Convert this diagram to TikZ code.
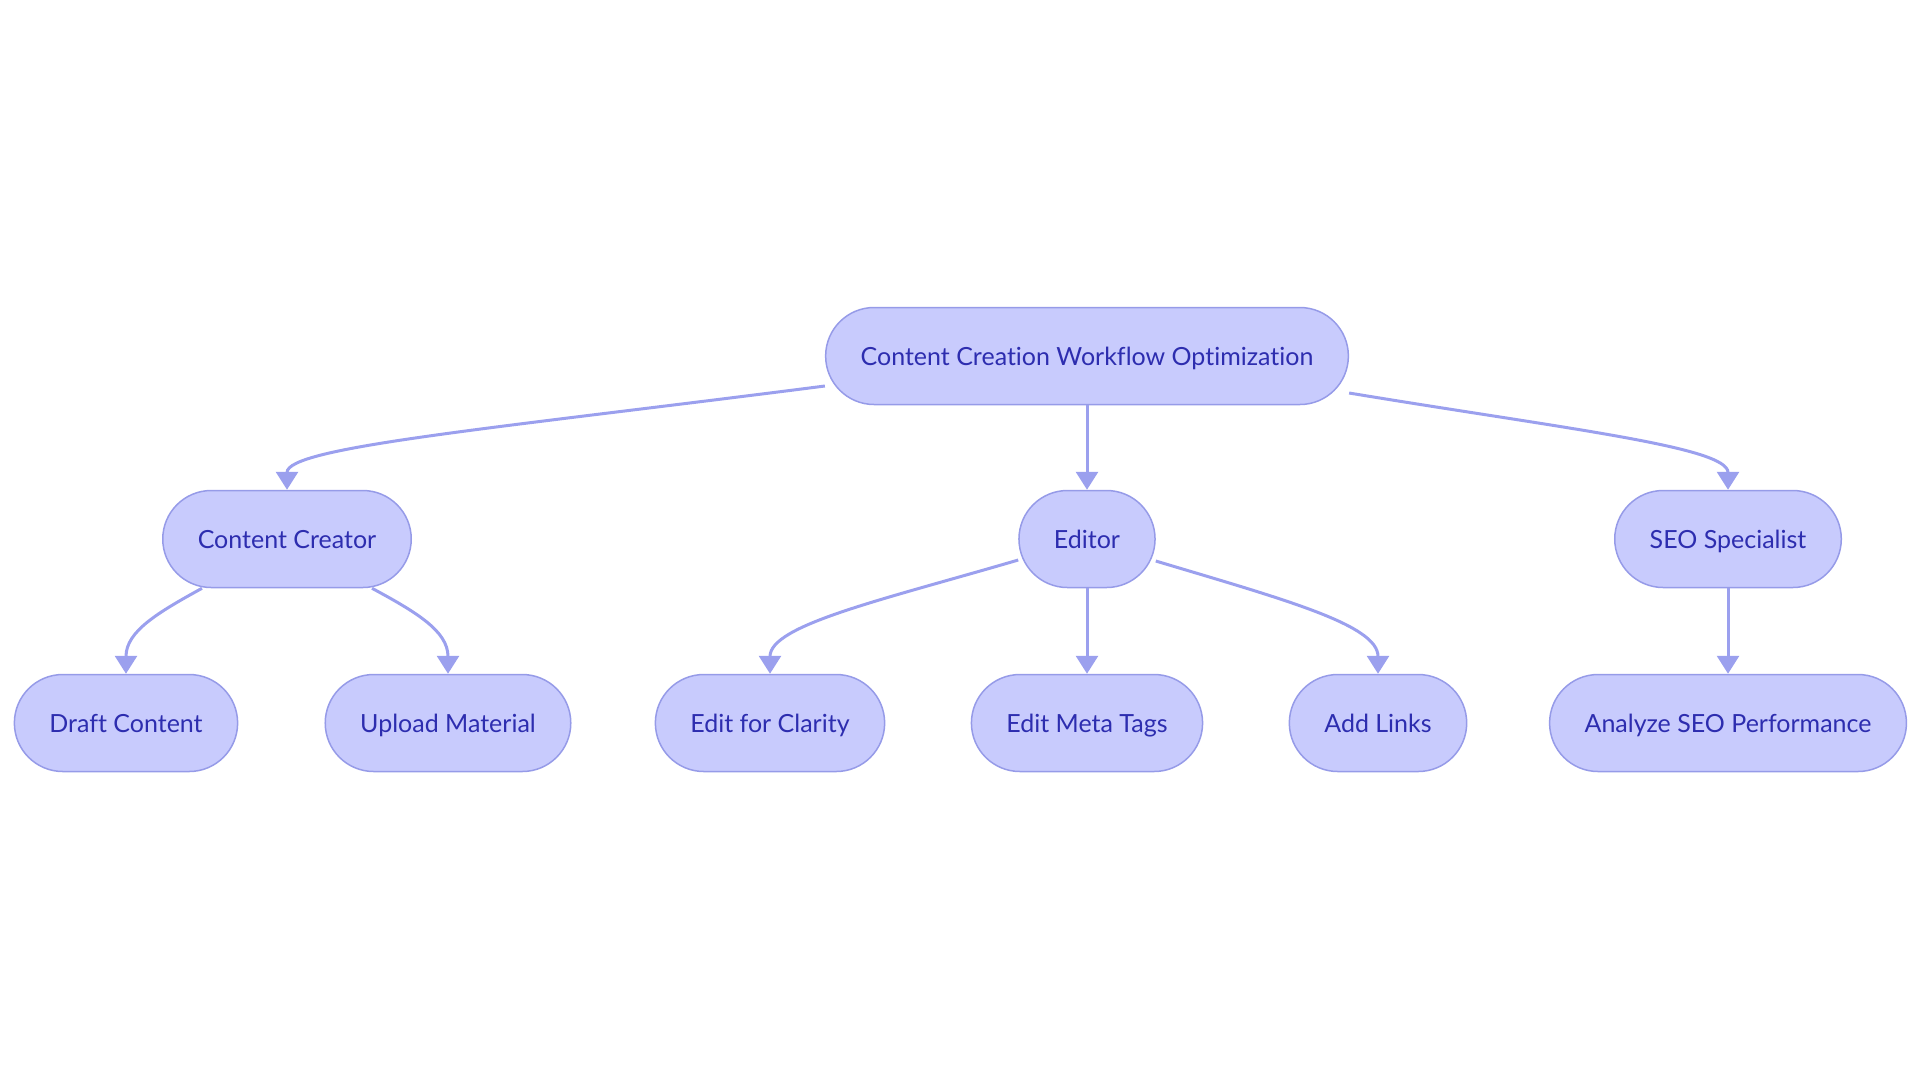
\documentclass[tikz,border=0pt]{standalone}
\usepackage{fontspec}
\setmainfont{Lato}[RawFeature=-liga]
\usetikzlibrary{arrows.meta}
\definecolor{boxfill}{RGB}{200,203,253}
\definecolor{boxline}{RGB}{150,155,232}
\definecolor{flowline}{RGB}{155,160,238}
\definecolor{boxtext}{RGB}{45,45,175}
\tikzset{
    box/.style={draw=boxline, fill=boxfill, line width=0.75pt, rounded corners=24.25pt,
        minimum height=48.5pt, inner xsep=17.5pt, text height=9pt, text depth=0pt, text=boxtext,
        font=\fontsize{12.5}{15}\selectfont}, % pill shaped boxes
    flow/.style={draw=flowline, line width=1.5pt, -{Triangle[width=11pt, length=9pt]}} % connectors
}
\begin{document}
\begin{tikzpicture}[x=0.5pt, y=-0.5pt]
            \useasboundingbox (0,0) rectangle (1920,1083);

            \node[box] (top) at (1087,356) {Content Creation Workflow Optimization};

            \node[box] (creator) at (287,539) {Content Creator};
            \node[box] (editor) at (1087,539) {Editor};
            \node[box] (seo) at (1728,539) {SEO Specialist};

            \node[box] (draft) at (126,723) {Draft Content};
            \node[box] (upload) at (448,723) {Upload Material};
            \node[box] (clarity) at (770,723) {Edit for Clarity};
            \node[box] (meta) at (1087,723) {Edit Meta Tags};
            \node[box] (links) at (1378,723) {Add Links};
            \node[box] (analyze) at (1728,723) {Analyze SEO Performance};

            \draw[flow] ([yshift=-15pt]top.west) .. controls (490,429) and (287,447) .. (creator);
            \draw[flow] (top) -- (editor);
            \draw[flow] ([yshift=-18.5pt]top.east) .. controls (1567,429) and (1728,447) .. (seo);

            \draw[flow] ([xshift=-42.5pt]creator.south) .. controls (159,612) and (126,631) .. (draft);
            \draw[flow] ([xshift=42.5pt]creator.south) .. controls (416,612) and (448,631) .. (upload);
            \draw[flow] ([yshift=-10.5pt]editor.west) .. controls (882,600) and (770,625) .. (clarity);
            \draw[flow] (editor) -- (meta);
            \draw[flow] ([yshift=-11pt]editor.east) .. controls (1286,600) and (1378,625) .. (links);
            \draw[flow] (seo) -- (analyze);
        \end{tikzpicture}
\end{document}
